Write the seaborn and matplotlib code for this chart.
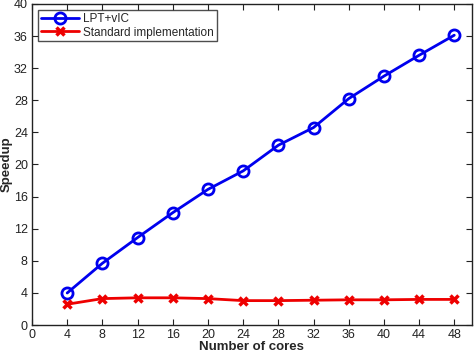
import seaborn as sns
import matplotlib.pyplot as plt

# data
cores = [4, 8, 12, 16, 20, 24, 28, 32, 36, 40, 44, 48]
lpt_vic = [4.0, 7.7, 10.9, 14.0, 16.9, 19.2, 22.4, 24.6, 28.2, 31.0, 33.6, 36.1]
standard = [2.6, 3.3, 3.4, 3.4, 3.3, 3.05, 3.05, 3.1, 3.15, 3.15, 3.2, 3.2]
x_ticks = [0, 4, 8, 12, 16, 20, 24, 28, 32, 36, 40, 44, 48]
y_ticks = [0, 4, 8, 12, 16, 20, 24, 28, 32, 36, 40]

sns.set_style("white")
plt.rcParams["font.family"] = ["Liberation Sans", "DejaVu Sans"]

fig = plt.figure(figsize=(4.74, 3.53), dpi=100)
ax = fig.add_axes([0.0675, 0.079, 0.928, 0.91])

sns.lineplot(x=cores, y=lpt_vic, color="#0000ee", linewidth=2,
             marker="o", markersize=8, markerfacecolor="none",
             markeredgecolor="#0000ee", markeredgewidth=2,
             label="LPT+vIC", ax=ax)
sns.lineplot(x=cores, y=standard, color="#ee0000", linewidth=2,
             marker="x", markersize=6, markeredgecolor="#ee0000",
             markeredgewidth=2.5, label="Standard implementation", ax=ax)

ax.set_xlim(0, 50)
ax.set_ylim(0, 40)
ax.set_xticks(x_ticks)
ax.set_yticks(y_ticks)
ax.tick_params(direction="in", length=4, labelsize=9, colors="#222222",
               top=True, right=True, bottom=True, left=True, pad=3)
for s in ax.spines.values():
    s.set_color("#222222")
    s.set_linewidth(1)

ax.set_xlabel("Number of cores", fontsize=9.5, fontweight="bold", labelpad=0)
ax.set_ylabel("Speedup", fontsize=9.5, fontweight="bold")
ax.yaxis.set_label_coords(-0.045, 0.5)

leg = ax.legend(loc="upper left", fontsize=8.5, frameon=True, fancybox=False,
                edgecolor="#222222", borderpad=0.25, handlelength=3.2,
                labelspacing=0.15, handletextpad=0.4, borderaxespad=0.5)
leg.get_frame().set_linewidth(1)

plt.savefig("out.png", dpi=100)
